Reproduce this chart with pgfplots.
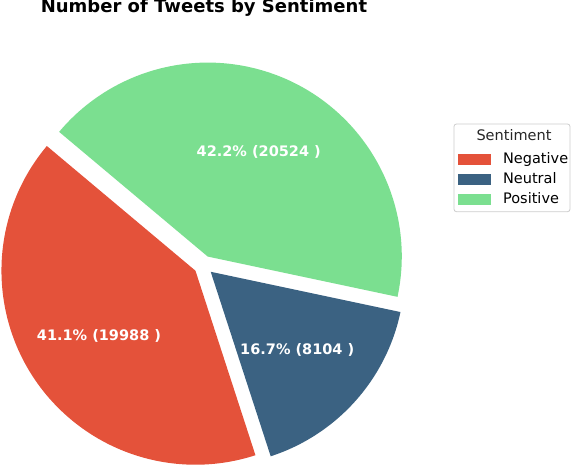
\documentclass[border=0pt]{standalone}
\usepackage{pgfplots}
\pgfplotsset{compat=1.18}
\usepackage{pgfplotstable}
\usepackage{fontspec}
\setmainfont{DejaVu Sans}
\definecolor{negc}{RGB}{228,82,58}
\definecolor{neuc}{RGB}{59,98,130}
\definecolor{posc}{RGB}{123,223,144}

\pgfplotstableread{
label value
Negative 19988
Neutral 8104
Positive 20524
}\sentdata

\begin{document}
\begin{tikzpicture}
\pgfplotstablegetelem{0}{value}\of\sentdata \let\vneg\pgfplotsretval
\pgfplotstablegetelem{1}{value}\of\sentdata \let\vneu\pgfplotsretval
\pgfplotstablegetelem{2}{value}\of\sentdata \let\vpos\pgfplotsretval
\pgfkeys{/pgf/fpu=true,/pgf/fpu/output format=fixed}
\pgfmathsetmacro\total{\vneg+\vneu+\vpos}
\pgfmathsetmacro\aA{140}
\pgfmathsetmacro\aB{\aA+360*\vneg/\total}
\pgfmathsetmacro\aC{\aB+360*\vneu/\total}
\pgfmathsetmacro\aD{\aC+360*\vpos/\total}
\pgfmathsetmacro\mA{(\aA+\aB)/2}
\pgfmathsetmacro\mB{(\aB+\aC)/2}
\pgfmathsetmacro\mC{(\aC+\aD)/2}
\pgfmathsetmacro\pA{100*\vneg/\total}
\pgfmathsetmacro\pB{100*\vneu/\total}
\pgfmathsetmacro\pC{100*\vpos/\total}
\pgfkeys{/pgf/fpu=false}
\def\cx{203.5}\def\cy{199.7}\def\R{194}\def\ex{9.7}\def\ld{126.1}
\useasboundingbox (0pt,0pt) rectangle (576pt,465pt);
\begin{axis}[
  x=1pt, y=1pt, xmin=0, xmax=576, ymin=0, ymax=465,
  scale only axis, hide axis, clip=false,
  at={(0pt,0pt)}, anchor=south west,
  legend style={at={(axis cs:458.3,312.7)}, anchor=north west, draw=none, fill=none,
    inner sep=0pt, outer sep=0pt, font=\fontsize{14.5}{17}\selectfont,
    row sep=6pt, column sep=12.4pt,
    nodes={inner sep=0pt, text height=11pt, text depth=3pt}},
  legend cell align=left,
]
\addlegendimage{legend image code/.code={\fill[negc] (0pt,-5pt) rectangle (32pt,5pt);}}
\addlegendentry{Negative}
\addlegendimage{legend image code/.code={\fill[neuc] (0pt,-5pt) rectangle (32pt,5pt);}}
\addlegendentry{Neutral}
\addlegendimage{legend image code/.code={\fill[posc] (0pt,-5pt) rectangle (32pt,5pt);}}
\addlegendentry{Positive}

\fill[negc] (axis cs:\cx,\cy) ++(\mA:\ex pt) -- ++(\aA:\R pt) arc[start angle=\aA, end angle=\aB, radius=\R pt] -- cycle;
\fill[neuc] (axis cs:\cx,\cy) ++(\mB:\ex pt) -- ++(\aB:\R pt) arc[start angle=\aB, end angle=\aC, radius=\R pt] -- cycle;
\fill[posc] (axis cs:\cx,\cy) ++(\mC:\ex pt) -- ++(\aC:\R pt) arc[start angle=\aC, end angle=\aD, radius=\R pt] -- cycle;

\path (axis cs:\cx,\cy) ++(\mA:\ld pt) node[text=white, font=\fontsize{14.5}{17}\selectfont\bfseries]
  {\pgfmathprintnumber[fixed,precision=1,fixed zerofill,assume math mode=true]{\pA}\% (\vneg\ )};
\path (axis cs:\cx,\cy) ++(\mB:\ld pt) node[text=white, font=\fontsize{14.5}{17}\selectfont\bfseries]
  {\pgfmathprintnumber[fixed,precision=1,fixed zerofill,assume math mode=true]{\pB}\% (\vneu\ )};
\path (axis cs:\cx,\cy) ++(\mC:\ld pt) node[text=white, font=\fontsize{14.5}{17}\selectfont\bfseries]
  {\pgfmathprintnumber[fixed,precision=1,fixed zerofill,assume math mode=true]{\pC}\% (\vpos\ )};

\node[anchor=base, font=\fontsize{18}{21}\selectfont\bfseries, text=black] at (axis cs:204,452.4) {Number of Tweets by Sentiment};

\draw[black!20, line width=0.8pt, rounded corners=2.5pt] (axis cs:454,341) rectangle (axis cs:570,253.3);
\node[anchor=base, font=\fontsize{14.5}{17}\selectfont, text=black!85] at (axis cs:514,324) {Sentiment};
\end{axis}
\end{tikzpicture}
\end{document}
